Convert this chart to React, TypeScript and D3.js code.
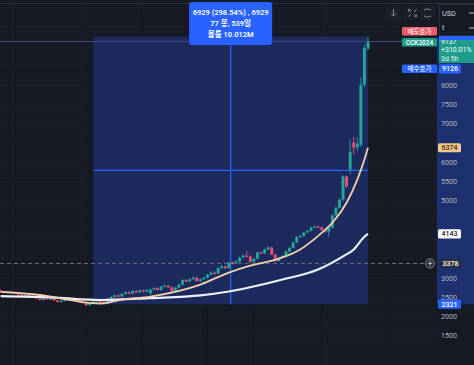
import React from 'react';
import * as d3 from 'd3';

const W = 474;
const H = 365;

// Weekly OHLC, bar index 0..103
const opens = [2680,2650,2620,2650,2600,2630,2570,2540,2570,2500,2530,2470,2430,2480,2450,2470,2420,2380,2410,2440,2480,2440,2460,2390,2350,2300,2340,2390,2420,2380,2330,2460,2510,2550,2520,2590,2630,2600,2660,2630,2680,2650,
  2600,2700,2740,2690,2780,2800,2760,2670,2750,2830,2950,2910,2970,3010,2920,2970,3010,3090,3140,3120,3260,3300,3260,3400,3380,3430,3530,3580,3560,3420,3500,3660,3640,3740,3790,3610,3440,3530,3570,3690,3780,3920,4060,4090,4180,4220,4310,4330,4310,4250,4200,4300,4620,4820,5030,5630,5810,6510,6380,6450,8010,8940];
const highs = [2700,2670,2670,2660,2650,2640,2590,2590,2580,2550,2540,2490,2500,2490,2490,2480,2440,2430,2460,2500,2490,2480,2470,2400,2370,2360,2410,2450,2440,2400,2480,2530,2570,2570,2610,2650,2650,2680,2690,2700,2700,2710,
  2720,2760,2760,2800,2830,2820,2780,2770,2850,2970,2970,2990,3040,3030,2990,3030,3110,3170,3170,3280,3330,3320,3420,3430,3460,3550,3610,3700,3590,3520,3680,3690,3760,3820,3810,3630,3550,3590,3710,3800,3940,4090,4120,4200,4250,4330,4360,4360,4340,4270,4320,4650,4850,5060,5660,5650,6590,6660,6650,8190,9050,9254];
const lows = [2630,2600,2600,2580,2590,2550,2520,2520,2480,2490,2450,2410,2420,2430,2430,2400,2360,2360,2390,2420,2420,2420,2370,2330,2270,2280,2321,2370,2350,2300,2320,2440,2490,2500,2510,2570,2580,2590,2610,2610,2630,2630,
  2580,2680,2670,2670,2760,2740,2650,2650,2730,2810,2890,2890,2950,2900,2900,2950,2990,3070,3090,3100,3240,3230,3240,3350,3360,3410,3510,3540,3400,3400,3480,3610,3620,3720,3590,3410,3420,3510,3550,3670,3760,3900,4040,4070,4160,4200,4290,4290,4230,4170,4070,4280,4600,4800,5000,5340,5700,6200,6300,6400,7950,8900];
const closes = [2650,2620,2650,2600,2630,2570,2540,2570,2500,2530,2470,2430,2480,2450,2470,2420,2380,2410,2440,2480,2440,2460,2390,2350,2300,2340,2390,2420,2380,2330,2460,2510,2550,2520,2590,2630,2600,2660,2630,2680,2650,2690,
  2700,2740,2690,2780,2800,2760,2670,2750,2830,2950,2910,2970,3010,2920,2970,3010,3090,3140,3120,3260,3300,3260,3400,3380,3430,3530,3580,3560,3420,3500,3660,3640,3740,3790,3610,3440,3530,3570,3690,3780,3920,4060,4090,4180,4220,4310,4330,4310,4250,4200,4300,4620,4820,5030,5630,5370,6270,6380,6480,8010,8960,9126];

// Moving averages (sampled at bar indices)
const fastIdx = [0, 11, 22, 28, 34, 42, 56, 64, 70, 78, 84, 90, 93, 97, 100, 102, 103];
const fastVal = [2640, 2560, 2390, 2340, 2440, 2520, 2830, 3140, 3320, 3500, 3740, 4170, 4430, 4950, 5550, 6070, 6374];
const slowIdx = [0, 14, 28, 42, 56, 64, 79, 89, 96, 99, 102, 103];
const slowVal = [2530, 2500, 2430, 2480, 2550, 2650, 2960, 3220, 3560, 3740, 4070, 4143];

const priceTicks = [1500, 2000, 2500, 3000, 3500, 4000, 4500, 5000, 5500, 6000, 6500, 7000, 7500, 8000, 8500, 9000, 9500, 10000];
const axisLabels = [1500, 2000, 2500, 3000, 5000, 5500, 6000, 7000, 7500, 8000];
const timeGrid = [3.5, 22.5, 38.5, 56, 70, 91, 108.5];

const startIdx = 26;
const endIdx = 103;
const startPrice = 2321;
const endPrice = 9254;
const lastPrice = 9126;
const fastLast = 6374;
const slowLast = 4143;
const crossPrice = 3378;

const tipLines = ['6929 (298.54%) , 6929', '77 봉, 539일', '볼륨 10.012M'];

const FONT = 'Roboto, "Noto Sans CJK KR", sans-serif';

export default function App() {
  const x = d3.scaleLinear().domain([0, 103]).range([0.6, 368]);
  const y = d3.scaleLinear().domain([2000, 8000]).range([316.6, 85]);
  const bw = 2.9;
  const axisX = 437;

  const fastLine = d3.line<number>().x((d, i) => x(fastIdx[i])).y((d) => y(d)).curve(d3.curveMonotoneX)(fastVal) || '';
  const slowLine = d3.line<number>().x((d, i) => x(slowIdx[i])).y((d) => y(d)).curve(d3.curveMonotoneX)(slowVal) || '';

  const rx0 = x(startIdx), rx1 = x(endIdx);
  const ry0 = y(endPrice), ry1 = y(startPrice);
  const midX = (rx0 + rx1) / 2;
  const midY = (ry0 + ry1) / 2;

  const label = (py: number, text: string, bg: string, fg: string, x0 = axisX + 1, w = 23) => (
    <g>
      <rect x={x0} y={py - 4.6} width={w} height={9.2} rx={1.5} fill={bg} />
      <text x={x0 + w / 2} y={py + 2.4} fill={fg} fontSize={7} textAnchor="middle" fontFamily={FONT} fontWeight={500}>{text}</text>
    </g>
  );

  return (
    <div style={{ position: 'fixed', left: 0, top: 0 }}>
      <svg width={W} height={H} style={{ display: 'block', background: '#161a25' }}>
        <defs>
          <clipPath id="plot"><rect x={0} y={4} width={axisX} height={H} /></clipPath>
        </defs>
        {/* grid */}
        {priceTicks.map((p) => (
          <line key={p} x1={0} x2={axisX} y1={y(p)} y2={y(p)} stroke="#1d212e" strokeWidth={1} />
        ))}
        {timeGrid.map((t) => (
          <line key={t} x1={x(t)} x2={x(t)} y1={4} y2={H} stroke="#1d212e" strokeWidth={1} />
        ))}
        <line x1={0} x2={W} y1={3.5} y2={3.5} stroke="#2a2e39" strokeWidth={1} />

        {/* measurement rectangle */}
        <rect x={rx0} y={ry0} width={rx1 - rx0} height={ry1 - ry0} fill="#1d2a5e" />
        <rect x={axisX} y={ry0} width={W - axisX} height={ry1 - ry0} fill="#1d3070" />

        {/* last price line */}
        <line x1={0} x2={axisX} y1={y(lastPrice)} y2={y(lastPrice)} stroke="#3d4f7e" strokeWidth={1} />

        <g clipPath="url(#plot)">
          {/* crosshair dashed line */}
          <line x1={0} x2={425} y1={y(crossPrice)} y2={y(crossPrice)} stroke="#6a6e7a" strokeWidth={1} strokeDasharray="4 3" />
          {/* measurement lines */}
          <line x1={midX} x2={midX} y1={ry0 + 8} y2={ry1} stroke="#2962ff" strokeWidth={1.2} />
          <line x1={rx0} x2={rx1} y1={midY} y2={midY} stroke="#2962ff" strokeWidth={1.2} />

          {/* candles */}
          {closes.map((c, i) => {
            const o = opens[i];
            const up = c >= o;
            const col = up ? '#26a69a' : '#ec4f73';
            const top = y(Math.max(o, c));
            const bot = y(Math.min(o, c));
            return (
              <g key={i}>
                <line x1={x(i)} x2={x(i)} y1={y(highs[i])} y2={y(lows[i])} stroke={col} strokeWidth={0.9} />
                <rect x={x(i) - bw / 2} y={top} width={bw} height={Math.max(1.2, bot - top)} fill={col} />
              </g>
            );
          })}
          {/* moving averages */}
          <path d={slowLine} fill="none" stroke="#eef0fb" strokeWidth={2.2} />
          <path d={fastLine} fill="none" stroke="#f1d2ad" strokeWidth={1.8} />
        </g>

        {/* tooltip */}
        <rect x={midX - 41.5} y={2} width={83} height={43} rx={3} fill="#2962ff" />
        {tipLines.map((t, i) => (
          <text key={i} x={midX} y={14.5 + i * 11} fill="#ffffff" fontSize={7.5} fontWeight={600} textAnchor="middle" fontFamily={FONT}>{t}</text>
        ))}

        {/* axis labels */}
        {axisLabels.map((p) => (
          <text key={p} x={441} y={y(p) + 2.5} fill="#b2b5be" fontSize={7.2} fontFamily={FONT}>{p}</text>
        ))}

        {/* price labels on axis */}
        {label(y(fastLast), String(fastLast), '#f4c68c', '#3a2a10')}
        {label(y(slowLast), String(slowLast), '#ffffff', '#131722')}
        {label(y(startPrice), String(startPrice), '#2962ff', '#ffffff')}
        {label(y(crossPrice), String(crossPrice), '#2a2e39', '#ffffff', axisX + 3, 21)}
        <g>
          <circle cx={430} cy={y(crossPrice)} r={4.6} fill="#2a2e39" stroke="#9598a1" strokeWidth={0.8} />
          <line x1={427.6} x2={432.4} y1={y(crossPrice)} y2={y(crossPrice)} stroke="#d1d4dc" strokeWidth={0.8} />
          <line x1={430} x2={430} y1={y(crossPrice) - 2.4} y2={y(crossPrice) + 2.4} stroke="#d1d4dc" strokeWidth={0.8} />
        </g>

        {/* last price box */}
        <rect x={axisX + 2} y={37} width={W - axisX - 2} height={26} fill="#1e9e8a" />
        <text x={axisX + 4} y={43.5} fill="#ffffff" fontSize={6.8} fontFamily={FONT}>9137</text>
        <rect x={axisX + 2} y={35} width={W - axisX - 2} height={5} fill="#2962ff" />
        <text x={axisX + 4} y={52} fill="#ffffff" fontSize={7} fontFamily={FONT}>+310.01%</text>
        <text x={axisX + 4} y={60.5} fill="#e0f2ef" fontSize={7} fontFamily={FONT}>3d 5h</text>

        {/* order labels */}
        <rect x={402} y={27} width={35} height={8.5} rx={1.5} fill="#f05a6a" />
        <text x={419.5} y={33.5} fill="#ffffff" fontSize={6.5} textAnchor="middle" fontFamily={FONT}>매도호가</text>
        <rect x={402} y={38} width={35} height={8.5} rx={1.5} fill="#1e9e8a" />
        <text x={419.5} y={44.5} fill="#ffffff" fontSize={6.5} textAnchor="middle" fontFamily={FONT} fontWeight={500}>CCK2024</text>
        <rect x={402} y={64.5} width={35} height={8.5} rx={1.5} fill="#2962ff" />
        <text x={419.5} y={71} fill="#ffffff" fontSize={6.5} textAnchor="middle" fontFamily={FONT}>매수호가</text>
        {label(68.8, String(lastPrice), '#2962ff', '#ffffff', axisX + 2, 22)}

        {/* toolbar */}
        <rect x={386} y={6} width={15} height={14} rx={2} fill="#1c202b" />
        <rect x={404} y={6} width={15} height={14} rx={2} fill="#1c202b" />
        <rect x={420} y={6} width={15} height={14} rx={2} fill="#1c202b" />
        <path d="M393.5 9 V16 M391 13.5 L393.5 16 L396 13.5" stroke="#8a8e99" strokeWidth={0.9} fill="none" />
        <path d="M408.5 9.5 L411 12 M408.5 9.5 V11.5 M408.5 9.5 H410.5 M416.5 16.5 L414 14 M416.5 16.5 V14.5 M416.5 16.5 H414.5 M416.5 9.5 L414 12 M408.5 16.5 L411 14" stroke="#8a8e99" strokeWidth={0.9} fill="none" />
        <path d="M424 10 Q427.5 7.5 431 10 M424 16 Q427.5 18.5 431 16" stroke="#8a8e99" strokeWidth={0.9} fill="none" />
        <rect x={439.5} y={4.5} width={35} height={31} fill="#161a25" stroke="#2a2e39" strokeWidth={1} />
        <text x={442} y={15.5} fill="#d1d4dc" fontSize={7.2} fontFamily={FONT}>USD</text>
        <line x1={469} x2={474} y1={13} y2={13} stroke="#d1d4dc" strokeWidth={0.9} />
        <text x={442} y={30} fill="#d1d4dc" fontSize={7.2} fontFamily={FONT}>t</text>
        <line x1={469} x2={474} y1={28} y2={28} stroke="#d1d4dc" strokeWidth={0.9} />
      </svg>
    </div>
  );
}
